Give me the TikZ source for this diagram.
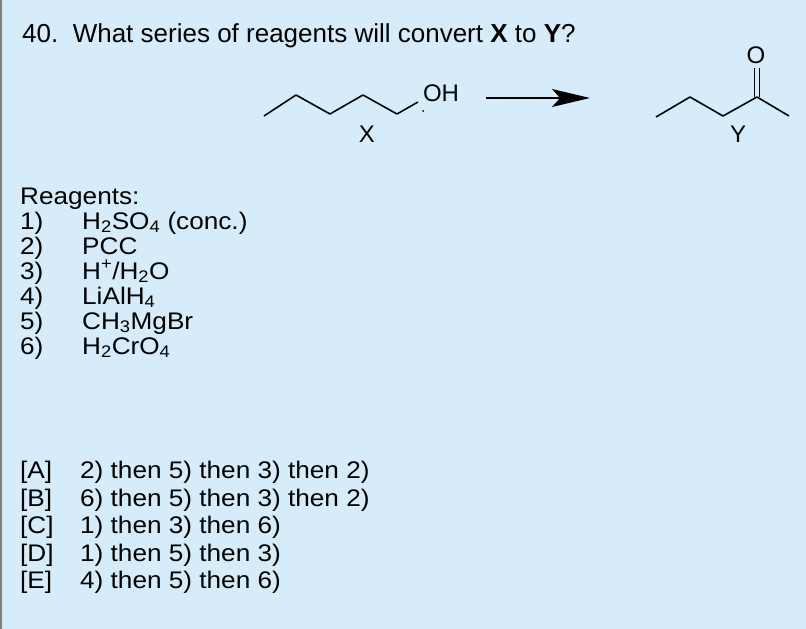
\documentclass[tikz,border=0pt]{standalone}
\usepackage{fontspec}
\setmainfont{Liberation Sans}
\newfontfamily\widefont[FakeStretch=1.09]{Liberation Sans}
\begin{document}
\begin{tikzpicture}[x=1pt,y=-1pt,
  bond/.style={line width=1.6pt,line join=round},
  txt/.style={anchor=base west,inner sep=0pt,font=\widefont\fontsize{24}{27}\selectfont},
  lbl/.style={inner sep=0pt,font=\fontsize{24}{27}\selectfont}]
\fill[fill={rgb,255:red,214;green,236;blue,250}] (0,0) rectangle (806,629);
\useasboundingbox (0,0) rectangle (806,629);
\draw[gray,line width=1.5pt] (1,0) -- (1,629);
\node[txt,font=\fontsize{26}{30}\selectfont] (title) at (22,42) {40.\ \ What series of reagents will convert \textbf{X} to \textbf{Y}?};
% X
\coordinate (x1) at (264,116); \coordinate (x2) at (296,95); \coordinate (x3) at (330,114);
\coordinate (x4) at (363,95); \coordinate (x5) at (397,114); \coordinate (x6) at (418,102);
\draw[bond] (x1)--(x2)--(x3)--(x4)--(x5)--(x6);
\node[lbl] (oh) at (441,93) {OH};
\fill (423,111) circle (1pt);
\node[lbl] (xl) at (367,134) {X};
% arrow
\coordinate (a1) at (486,98); \coordinate (a2) at (590,98);
\draw[line width=1.6pt] (a1) -- (560,98);
\fill (590,98) -- (552,89) -- (560,98) -- (552,107) -- cycle;
% Y
\coordinate (y1) at (656,117); \coordinate (y2) at (690,97); \coordinate (y3) at (723,116);
\coordinate (y4) at (757,97); \coordinate (y5) at (789,116); \coordinate (yo) at (757,68);
\draw[bond] (y1)--(y2)--(y3)--(y4)--(y5);
\draw[bond] ([xshift=-2.6pt]y4) -- ([xshift=-2.6pt]yo);
\draw[bond] ([xshift=2.6pt]y4) -- ([xshift=2.6pt]yo);
\node[lbl] (o) at (756,55) {O};
\node[lbl] (yl) at (738,134) {Y};
% reagents
\node[txt] (r0) at (20,204) {Reagents:};
\node[txt] (r1) at (20,229) {1)};\node[txt] at (82,229) {H\textsubscript{2}SO\textsubscript{4} (conc.)};
\node[txt] (r2) at (20,254) {2)};\node[txt] at (82,254) {PCC};
\node[txt] (r3) at (20,279) {3)};\node[txt] at (82,279) {H\textsuperscript{+}/H\textsubscript{2}O};
\node[txt] (r4) at (20,304) {4)};\node[txt] at (82,304) {LiAlH\textsubscript{4}};
\node[txt] (r5) at (20,329) {5)};\node[txt] at (82,329) {CH\textsubscript{3}MgBr};
\node[txt] (r6) at (20,354) {6)};\node[txt] at (82,354) {H\textsubscript{2}CrO\textsubscript{4}};
% answers
\node[txt] (aa) at (20,478) {[A]};\node[txt] at (80,478) {2) then 5) then 3) then 2)};
\node[txt] (ab) at (20,506) {[B]};\node[txt] at (80,506) {6) then 5) then 3) then 2)};
\node[txt] (ac) at (20,533) {[C]};\node[txt] at (80,533) {1) then 3) then 6)};
\node[txt] (ad) at (20,561) {[D]};\node[txt] at (80,561) {1) then 5) then 3)};
\node[txt] (ae) at (20,588) {[E]};\node[txt] at (80,588) {4) then 5) then 6)};
\end{tikzpicture}
\end{document}
